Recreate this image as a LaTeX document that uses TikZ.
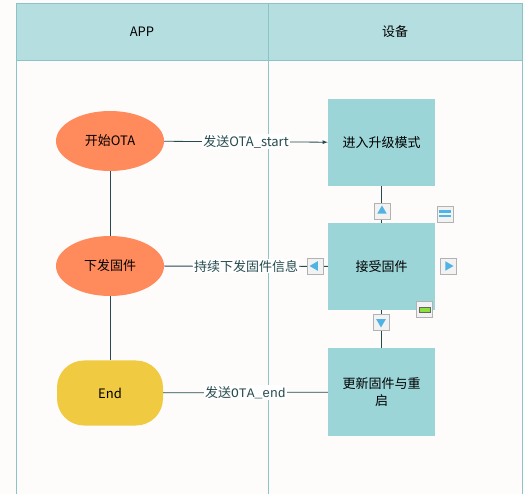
\documentclass[tikz,border=0pt]{standalone}
\usepackage{fontspec}
\setmainfont{Noto Sans CJK SC}
\newfontfamily\monolat{Liberation Mono}
\usetikzlibrary{shapes.geometric}

\definecolor{pagebg}{HTML}{FDFCFB}
\definecolor{hdrfill}{HTML}{B4DEE0}
\definecolor{lanecol}{HTML}{8CC3C6}
\definecolor{orng}{HTML}{FF8A5B}
\definecolor{ylw}{HTML}{F0CA41}
\definecolor{tealbox}{HTML}{9BD5D8}
\definecolor{wirecol}{HTML}{264A4E}
\definecolor{tipblue}{HTML}{4FB3E3}
\definecolor{lime}{HTML}{8BE03A}

\tikzstyle{oval}=[ellipse,fill=orng,minimum width=108pt,minimum height=60pt,inner sep=0pt]
\tikzstyle{stop}=[rectangle,rounded corners=27pt,fill=ylw,minimum width=106pt,minimum height=65pt]
\tikzstyle{task}=[rectangle,fill=tealbox,minimum width=107pt,minimum height=87pt,align=center,text width=97pt]
\tikzstyle{wire}=[wirecol,line width=0.8pt]
\tikzstyle{lbl}=[fill=white,inner sep=1pt]
\tikzstyle{handle}=[rectangle,draw=black!30,fill=black!5,minimum size=16pt,inner sep=0pt]
\tikzstyle{tip}=[regular polygon,regular polygon sides=3,fill=tipblue,minimum size=11pt,inner sep=0pt]

\begin{document}
\begin{tikzpicture}[x=1pt,y=-1pt,font=\fontsize{13}{17}\selectfont]
	
	\useasboundingbox[fill=pagebg] (0,0) rectangle (525,494);
	
	% swimlanes
	\fill[hdrfill] (16,3) rectangle (522,60);
	\draw[lanecol] (16,494) -- (16,3) -- (522,3) -- (522,494);
	\draw[lanecol] (16,60) -- (522,60);
	\draw[lanecol] (268,3) -- (268,494);
	\node (appcol) at (142,32) {APP};
	\node (devcol) at (395,32) {设备};
	
	% app side
	\node[oval] (begin) at (110,141) {开始OTA};
	\node[oval] (push) at (110,266) {下发固件};
	\node[stop] (finish) at (110,393) {End};
	
	% device side
	\node[task] (enter) at (381.5,142.5) {进入升级模式};
	\node[task] (recv) at (381.5,266.5) {接受固件};
	\node[task] (reboot) at (381.5,392) {更新固件与重\\启};
	
	\draw[wire] (begin) -- (push);
	\draw[wire] (push) -- (finish);
	\draw[wire] (enter) -- (recv);
	\draw[wire] (recv) -- (reboot);
	
	\draw[wire,-latex] (begin) -- (enter) node[lbl,midway] {发送OTA\_start};
	\draw[wire] (push) -- (recv) node[lbl,midway] {持续下发固件信息};
	\draw[wire] (finish) -- (reboot) node[lbl,midway] {发送{\monolat OTA\_end}};
	
	% editor handles
	\node[handle] (hup) at (382,211) {};
	\node[tip] at (hup) {};
	\node[handle] (hdown) at (381,322) {};
	\node[tip,shape border rotate=180] at (hdown) {};
	\node[handle] (hleft) at (315,266) {};
	\node[tip,shape border rotate=90] at (hleft) {};
	\node[handle] (hright) at (448,266) {};
	\node[tip,shape border rotate=270] at (hright) {};
	\node[handle] (hmenu) at (445,214) {};
	\fill[tipblue] ([shift={(-6,-3.5)}]hmenu.center) rectangle ++(12,2.5);
	\fill[tipblue] ([shift={(-6,1)}]hmenu.center) rectangle ++(12,2.5);
	\node[handle] (hfold) at (424.5,309.5) {};
	\node[draw=black!60,fill=lime,minimum width=11pt,minimum height=5pt,inner sep=0pt] at (hfold) {};
	
\end{tikzpicture}
\end{document}
